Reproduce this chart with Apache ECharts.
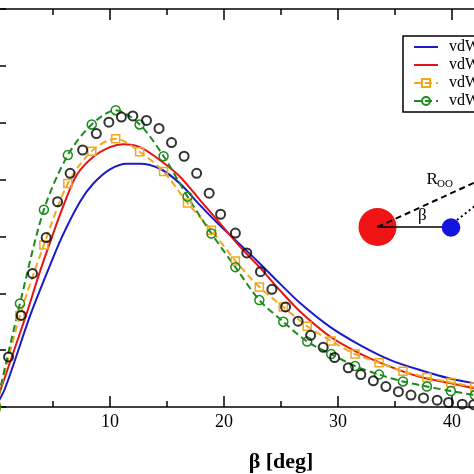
<!DOCTYPE html>
<html>
<head>
<meta charset="utf-8">
<script src="https://cdn.jsdelivr.net/npm/echarts@6/dist/echarts.min.js"></script>
<style>
html, body { margin:0; padding:0; background:#fff; }
#main { width:474px; height:474px; }
</style>
</head>
<body>
<div id="main"></div>
<script>
var serif = '"Liberation Serif", "DejaVu Serif", serif';

// legend names (cut off at the right edge in the picture)
var names = ['vdW-DF', 'vdW-DF2', 'vdW-DF (PI)', 'vdW-DF2 (PI)'];

// solid curves, [beta, P]
var blueLine = [[0,0.02],[0.8,0.33],[3.0,1.61],[4.45,2.35],[5.76,2.98],[7.37,3.61],[8.54,3.93],[10.0,4.18],
  [11.46,4.28],[12.63,4.28],[14.39,4.19],[16.14,3.93],[17.89,3.55],[19.65,3.19],[21.4,2.86],[23.16,2.52],
  [24.91,2.17],[26.67,1.83],[29.3,1.41],[31.93,1.09],[34.56,0.83],[37.19,0.65],[39.82,0.5],[41.9,0.42]];
var redLine = [[0,0.03],[0.5,0.36],[2.63,1.61],[3.8,2.35],[4.89,2.98],[6.05,3.61],[7.08,4.08],[8.54,4.4],
  [10.0,4.57],[11.17,4.62],[12.63,4.57],[14.39,4.34],[16.14,4.05],[17.89,3.64],[19.65,3.23],[21.4,2.82],
  [23.16,2.45],[24.91,2.05],[26.67,1.68],[29.3,1.24],[31.93,0.94],[34.56,0.71],[37.19,0.53],[39.82,0.42],[41.9,0.33]];

// dashed series with markers
var betaSim = [0,2.1,4.2,6.3,8.4,10.5,12.6,14.7,16.8,18.9,21.0,23.1,25.2,27.3,29.4,31.5,33.6,35.7,37.8,39.9,42.0];
var orangeVals = [0,1.61,2.85,3.93,4.5,4.72,4.49,4.14,3.59,3.11,2.57,2.11,1.76,1.42,1.16,0.93,0.78,0.63,0.52,0.43,0.35];
var greenVals = [0,1.82,3.47,4.43,4.97,5.22,4.97,4.41,3.7,3.05,2.46,1.88,1.5,1.15,0.93,0.72,0.57,0.45,0.36,0.28,0.21];

// open black circles
var betaRef = [1.1,2.2,3.2,4.4,5.4,6.5,7.6,8.8,9.9,11.0,12.0,13.2,14.3,15.4,16.5,17.6,18.7,19.7,21.0,22.0,23.2,24.2,
  25.4,26.5,27.6,28.7,29.7,30.9,32.0,33.1,34.2,35.3,36.4,37.5,38.7,39.7,40.9,41.9];
var refVals = [0.88,1.61,2.35,2.98,3.61,4.11,4.52,4.81,5.01,5.1,5.12,5.04,4.9,4.65,4.41,4.11,3.76,3.39,3.06,2.71,2.38,2.07,
  1.76,1.51,1.26,1.05,0.87,0.69,0.57,0.46,0.36,0.27,0.21,0.16,0.12,0.08,0.05,0.04];

function pairs(xs, ys) { return xs.map(function (x, i) { return [x, ys[i]]; }); }

var chart = echarts.init(document.getElementById('main'));

function xAxisBase(pos) {
  return {
    type: 'value', min: 0, max: 50, interval: 10, position: pos,
    axisLine: { show: true, lineStyle: { color: '#000', width: 1.5 } },
    axisTick: { inside: true, length: 11, lineStyle: { color: '#000', width: 1.5 } },
    minorTick: { show: true, splitNumber: 2, length: 6, lineStyle: { color: '#000', width: 1.5 } },
    splitLine: { show: false }
  };
}
var xBottom = xAxisBase('bottom');
xBottom.axisLabel = { margin: 6, fontSize: 18, fontFamily: serif, color: '#000',
  formatter: function (v) { return v === 0 ? '' : v; } };
xBottom.name = 'β [deg]';
xBottom.nameLocation = 'middle';
xBottom.nameGap = 44;
xBottom.nameTextStyle = { fontFamily: serif, fontSize: 22, fontWeight: 'bold', color: '#000' };
var xTop = xAxisBase('top');
xTop.axisLabel = { show: false };

var noIcon = { color: 'rgba(0,0,0,0)', borderWidth: 0, borderColor: 'rgba(0,0,0,0)' };

var option = {
  animation: false,
  backgroundColor: '#fff',
  grid: { left: -4, right: -92, top: 9, bottom: 67, containLabel: false, outerBoundsMode: 'none' },
  xAxis: [xBottom, xTop],
  yAxis: {
    type: 'value', min: 0, max: 7, interval: 1,
    axisLine: { show: true, lineStyle: { color: '#000', width: 1.5 } },
    axisTick: { inside: true, length: 10, lineStyle: { color: '#000', width: 1.5 } },
    axisLabel: { show: false },
    splitLine: { show: false }
  },
  legend: {
    orient: 'vertical', left: 403, top: 36, padding: [3, 30, 3, 10],
    itemWidth: 24, itemHeight: 10, itemGap: 2,
    borderColor: '#000', borderWidth: 1.5, selectedMode: false,
    textStyle: { fontFamily: serif, fontSize: 16, lineHeight: 16, color: '#000', padding: [0, 0, 0, 6] },
    data: [
      { name: names[0], itemStyle: noIcon },
      { name: names[1], itemStyle: noIcon },
      names[2], names[3]
    ]
  },
  series: [
    { name: names[0], type: 'line', data: blueLine, smooth: 0.3, symbol: 'none',
      lineStyle: { color: '#1a1ac8', width: 2 }, itemStyle: { color: '#1a1ac8' }, z: 3 },
    { name: names[1], type: 'line', data: redLine, smooth: 0.3, symbol: 'none',
      lineStyle: { color: '#e41414', width: 2 }, itemStyle: { color: '#e41414' }, z: 3 },
    { name: names[2], type: 'line', data: pairs(betaSim, orangeVals), smooth: 0.3,
      symbol: 'rect', symbolSize: 8,
      lineStyle: { color: '#f2a81d', width: 2, type: [7, 4] },
      itemStyle: { color: 'rgba(255,255,255,0)', borderColor: '#f2a81d', borderWidth: 1.5 }, z: 4 },
    { name: names[3], type: 'line', data: pairs(betaSim, greenVals), smooth: 0.3,
      symbol: 'circle', symbolSize: 9,
      lineStyle: { color: '#1c8a1c', width: 2, type: [7, 4] },
      itemStyle: { color: 'rgba(255,255,255,0)', borderColor: '#1c8a1c', borderWidth: 1.5 }, z: 4 },
    { name: 'ref', type: 'scatter', data: pairs(betaRef, refVals), symbol: 'circle', symbolSize: 9,
      itemStyle: { color: 'rgba(255,255,255,0)', borderColor: '#000', borderWidth: 2 }, z: 5 }
  ],
  graphic: [
    { type: 'circle', shape: { cx: 377.5, cy: 227, r: 19 }, style: { fill: '#f01414' }, z: 100 },
    { type: 'line', shape: { x1: 377.5, y1: 227, x2: 480, y2: 180 },
      style: { stroke: '#000', lineWidth: 2, lineDash: [6, 4] }, z: 101 },
    { type: 'line', shape: { x1: 377.5, y1: 227, x2: 451, y2: 227 },
      style: { stroke: '#000', lineWidth: 1.5 }, z: 101 },
    { type: 'line', shape: { x1: 457, y1: 220, x2: 480, y2: 202 },
      style: { stroke: '#000', lineWidth: 2, lineDash: [2, 3] }, z: 101 },
    { type: 'circle', shape: { cx: 451, cy: 227.5, r: 9.3 }, style: { fill: '#1414e0' }, z: 102 },
    { type: 'text', x: 418, y: 216, z: 103,
      style: { text: 'β', font: '17px "Liberation Serif"', fill: '#000', verticalAlign: 'middle', align: 'left' } },
    { type: 'text', x: 426.5, y: 179.5, z: 103,
      style: { text: 'R', font: '17px "Liberation Serif"', fill: '#000', verticalAlign: 'middle', align: 'left' } },
    { type: 'text', x: 437, y: 184.5, z: 103,
      style: { text: 'OO', font: '11px "Liberation Serif"', fill: '#000', verticalAlign: 'middle', align: 'left' } }
  ]
};
chart.setOption(option);
</script>
</body>
</html>
